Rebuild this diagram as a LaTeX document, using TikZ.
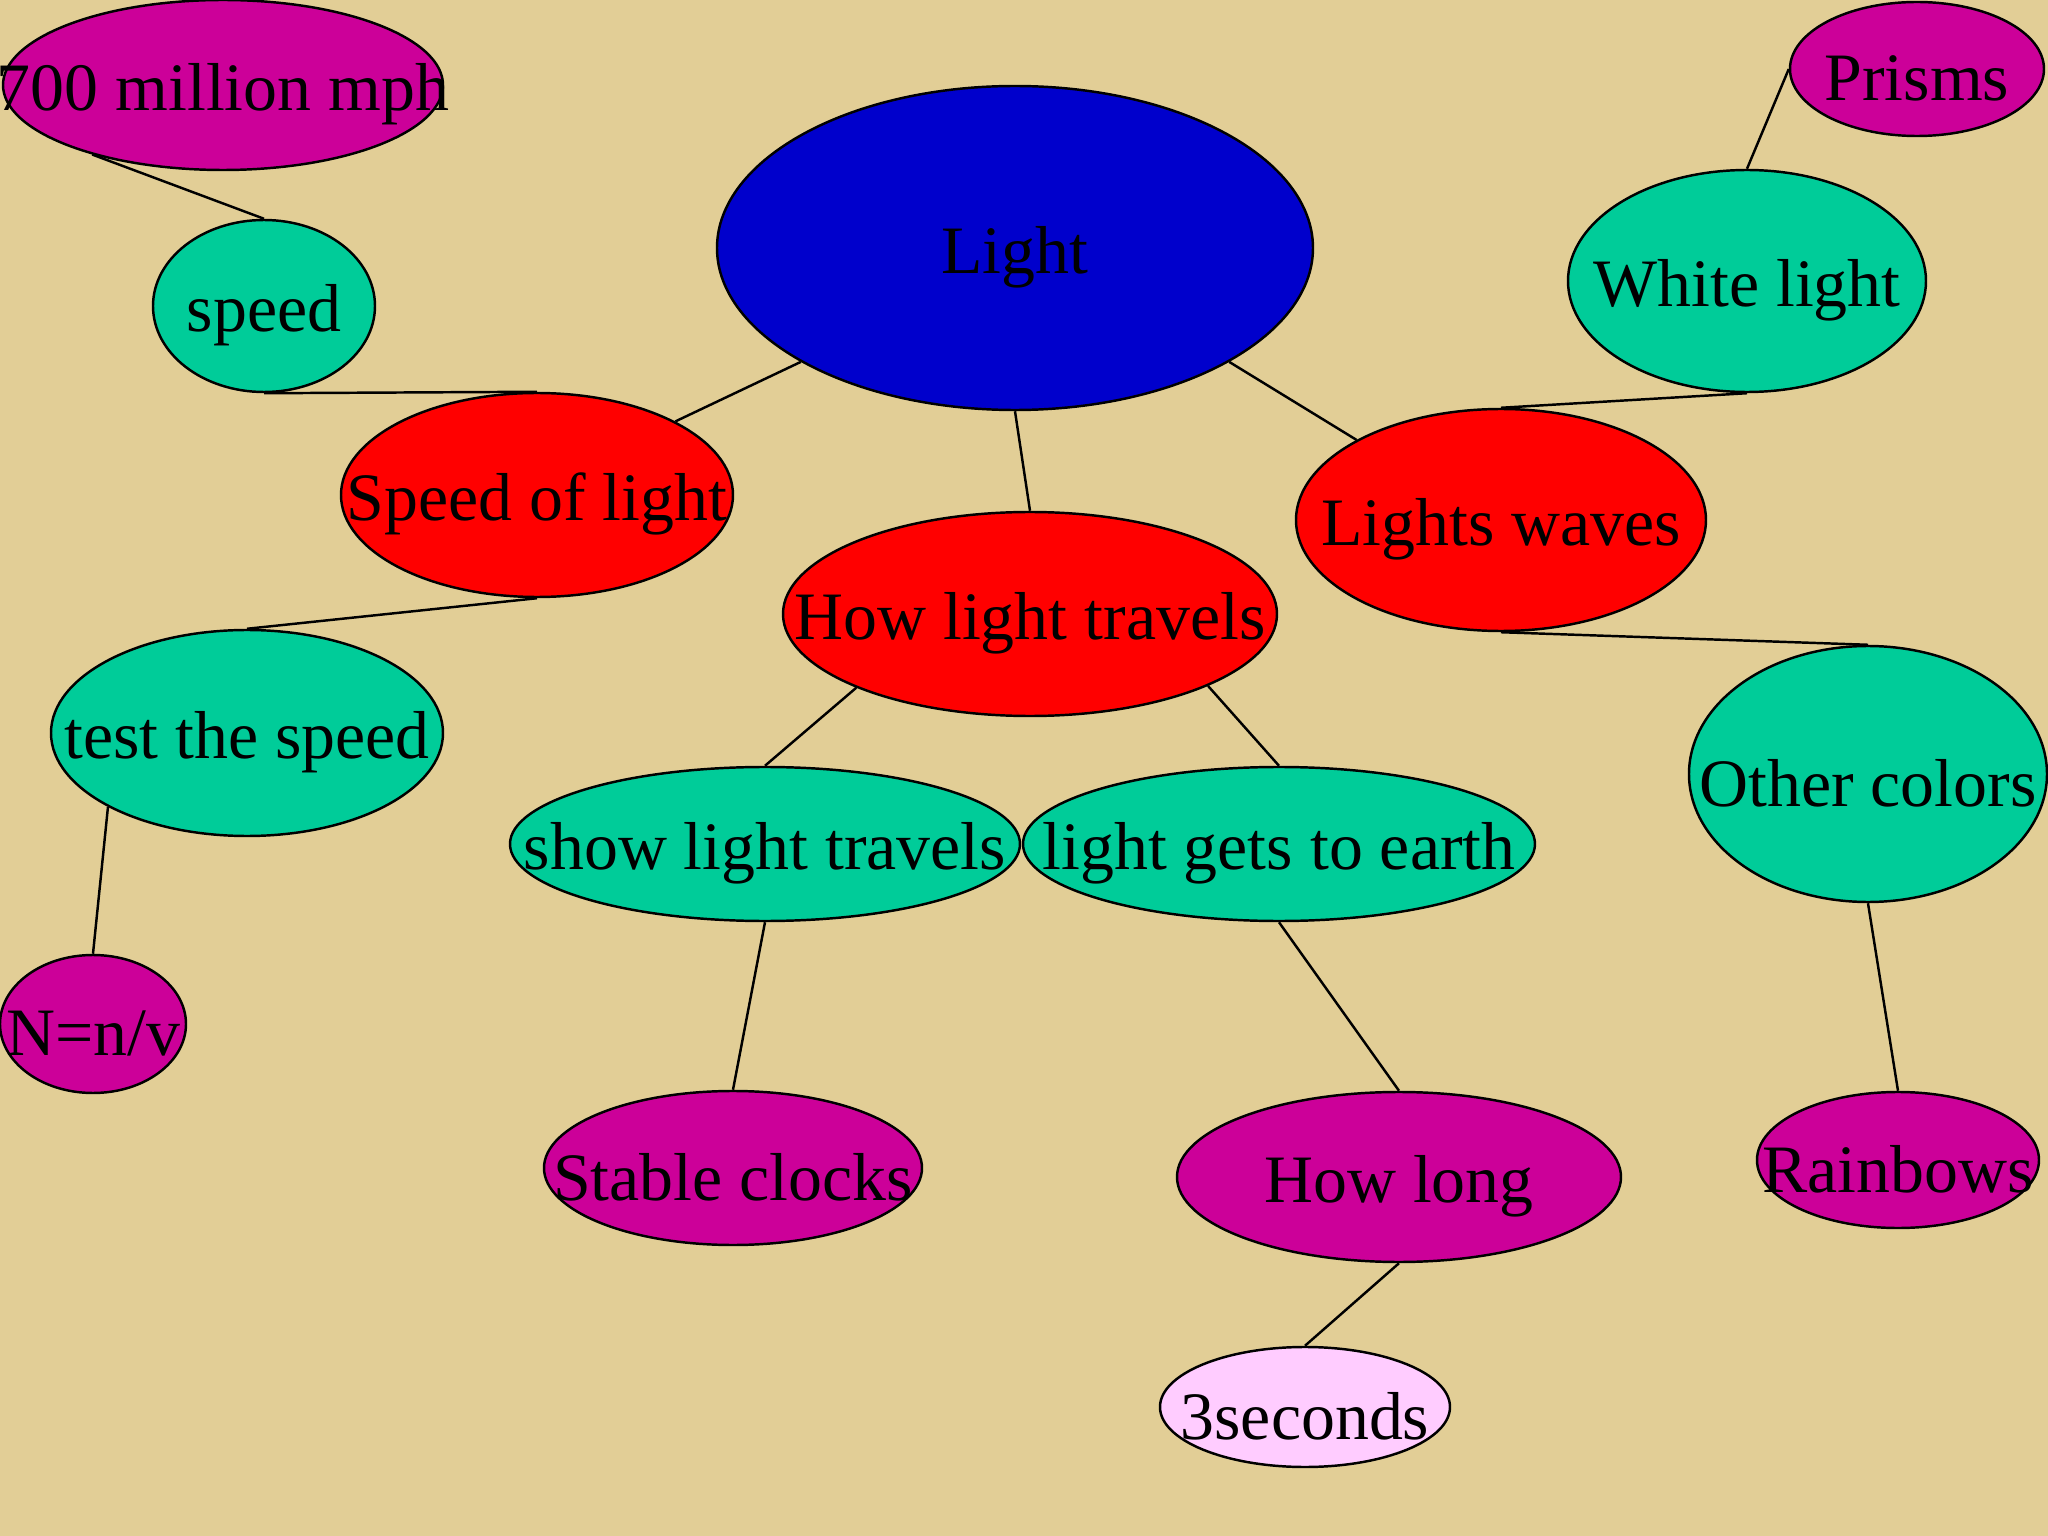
\documentclass[tikz,border=0pt]{standalone}
\usepackage{fontspec}
\setmainfont{Liberation Serif}
\usepackage{xcolor}
\usetikzlibrary{shapes.geometric}

\definecolor{paper}{RGB}{226,206,150}
\definecolor{magen}{RGB}{204,0,153}
\definecolor{teal}{RGB}{0,204,153}
\definecolor{deepblue}{RGB}{0,0,204}
\definecolor{pinkish}{RGB}{255,204,255}

\newcommand{\lbl}[1]{\makebox[0pt]{\raisebox{-0.09cm}[\height][\depth]{#1}}}

\begin{document}
\begin{tikzpicture}[every node/.style={font=\fontsize{19.3}{23}\selectfont},
    bubble/.style 2 args={ellipse, draw, line width=0.7pt, inner sep=0pt, minimum width=#1cm, minimum height=#2cm}]
      \fill[paper] (0, 0) rectangle (20.48, -15.36);
      \useasboundingbox (0, 0) rectangle (20.48, -15.36);

      \node[bubble={5.96}{3.24}, fill=deepblue] (light) at (10.15, -2.48){\lbl{Light}};
      \node[bubble={4.40}{1.70}, fill=magen] (mph) at (2.23, -0.85){\lbl{700 million mph}};
      \node[bubble={2.22}{1.72}, fill=teal] (speed) at (2.64, -3.06){\lbl{speed}};
      \node[bubble={2.54}{1.34}, fill=magen] (prisms) at (19.17, -0.69){\lbl{Prisms}};
      \node[bubble={3.58}{2.22}, fill=teal] (white) at (17.47, -2.81){\lbl{White light}};
      \node[bubble={3.92}{2.04}, fill=red] (sol) at (5.37, -4.95){\lbl{Speed of light}};
      \node[bubble={4.10}{2.22}, fill=red] (waves) at (15.01, -5.20){\lbl{Lights waves}};
      \node[bubble={4.94}{2.04}, fill=red] (travels) at (10.30, -6.14){\lbl{How light travels}};
      \node[bubble={3.92}{2.06}, fill=teal] (test) at (2.47, -7.33){\lbl{test the speed}};
      \node[bubble={3.58}{2.56}, fill=teal] (colors) at (18.68, -7.74){\lbl{Other colors}};
      \node[bubble={5.10}{1.54}, fill=teal] (show) at (7.65, -8.44){\lbl{show light travels}};
      \node[bubble={5.12}{1.54}, fill=teal] (earth) at (12.79, -8.44){\lbl{light gets to earth}};
      \node[bubble={1.86}{1.38}, fill=magen] (nnv) at (0.93, -10.24){\lbl{N=n/v}};
      \node[bubble={3.78}{1.54}, fill=magen] (clocks) at (7.33, -11.68){\lbl{Stable clocks}};
      \node[bubble={4.44}{1.70}, fill=magen] (long) at (13.99, -11.77){\lbl{How long}};
      \node[bubble={2.82}{1.36}, fill=magen] (rain) at (18.98, -11.60){\lbl{Rainbows}};
      \node[bubble={2.90}{1.20}, fill=pinkish] (secs) at (13.05, -14.07){\lbl{3seconds}};

      \draw[-, line width=0.7pt] (mph.208) -- (speed.north);
      \draw[-, line width=0.7pt] (speed.south) -- (sol.north);
      \draw[-, line width=0.7pt] (light.208) -- (sol.28);
      \draw[-, line width=0.7pt] (light.south) -- (travels.north);
      \draw[-, line width=0.7pt] (light.-28) -- (waves.151);
      \draw[-, line width=0.7pt] (prisms.west) -- (white.north);
      \draw[-, line width=0.7pt] (white.south) -- (waves.north);
      \draw[-, line width=0.7pt] (sol.south) -- (test.north);
      \draw[-, line width=0.7pt] (test.208) -- (nnv.north);
      \draw[-, line width=0.7pt] (travels.203) -- (show.north);
      \draw[-, line width=0.7pt] (travels.-22) -- (earth.north);
      \draw[-, line width=0.7pt] (waves.south) -- (colors.north);
      \draw[-, line width=0.7pt] (show.south) -- (clocks.north);
      \draw[-, line width=0.7pt] (earth.south) -- (long.north);
      \draw[-, line width=0.7pt] (colors.south) -- (rain.north);
      \draw[-, line width=0.7pt] (long.south) -- (secs.north);

    \end{tikzpicture}
\end{document}
